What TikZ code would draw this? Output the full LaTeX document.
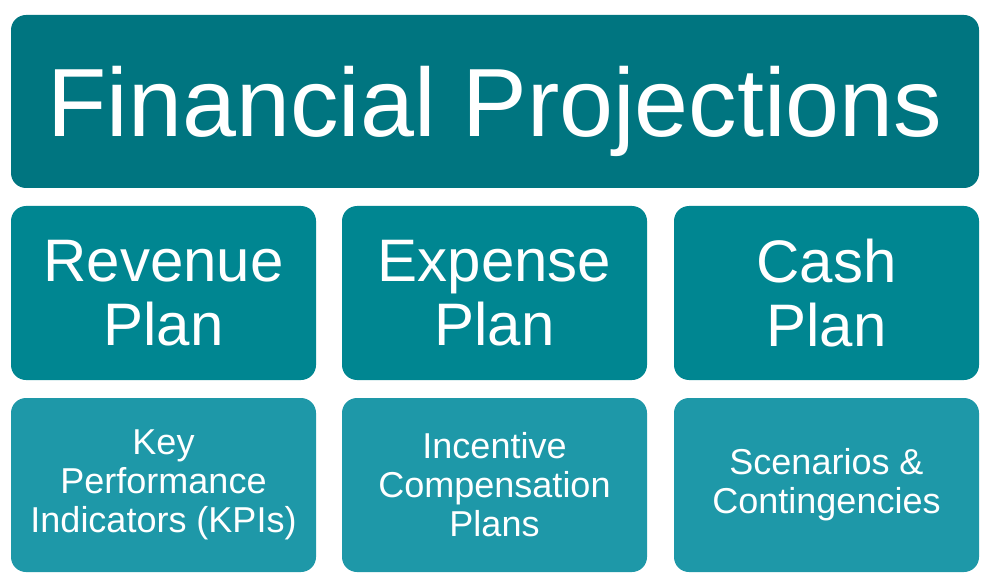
\documentclass[tikz,border=0pt]{standalone}
\usepackage{fontspec}
\setmainfont{Liberation Sans}
\definecolor{tealtop}{RGB}{0,117,128}
\definecolor{tealmid}{RGB}{0,134,145}
\definecolor{tealbot}{RGB}{30,152,168}
\tikzset{
  box/.style={rectangle, rounded corners=15pt, inner sep=0pt, outer sep=0pt,
    text=white, align=center},
  titlebox/.style={box, fill=tealtop, minimum width=968pt, minimum height=173pt,
    text depth=0pt, font=\fontsize{97}{100}\selectfont},
  planbox/.style={box, fill=tealmid, minimum width=305pt, minimum height=174pt,
    font=\fontsize{60}{64}\selectfont},
  itembox/.style={box, fill=tealbot, minimum width=305pt, minimum height=174pt,
    font=\fontsize{36}{39}\selectfont}
}
\begin{document}
\begin{tikzpicture}[x=1pt, y=-1pt]
  % 外枠
  \useasboundingbox (0,0) rectangle (992,585);

  % タイトル
  \node[titlebox] (title) at (495,101.5) {Financial Projections};

  % 計画
  \node[planbox] (revenue) at (163.5,293) {Revenue\\Plan};
  \node[planbox] (expense) at (494.5,293) {Expense\\Plan};
  \node[planbox] (cash) at (826.5,293) {Cash\\Plan};

  % 詳細
  \node[itembox] (kpi) at (163.5,485) {Key\\Performance\\Indicators (KPIs)};
  \node[itembox] (incentive) at (494.5,485) {Incentive\\Compensation\\Plans};
  \node[itembox] (scenario) at (826.5,485) {Scenarios \&\\Contingencies};
\end{tikzpicture}
\end{document}
